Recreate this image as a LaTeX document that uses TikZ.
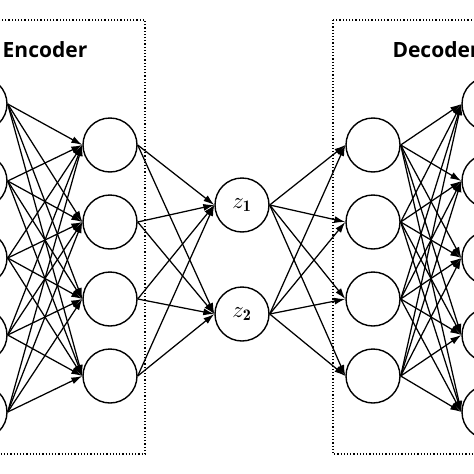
\documentclass[tikz,border=0pt]{standalone}
\usepackage{fontspec}
\usepackage{fix-cm}
\newfontfamily\titlefont{Open Sans}
\usetikzlibrary{arrows.meta}

\begin{document}
\begin{tikzpicture}[x=1pt, y=-1pt, >={Latex[length=11pt,width=7pt]},
  unit/.style={circle, draw, line width=1.4pt, minimum size=54pt, inner sep=0pt,
    font=\fontsize{23}{27}\selectfont},
  link/.style={->, line width=1.25pt},
  group/.style={draw, line width=1.2pt, dash pattern=on 1.2pt off 2pt},
  title/.style={font=\titlefont\bfseries\fontsize{21}{25}\selectfont}]

  \useasboundingbox (0,0) rectangle (474,474);
  \clip (0,0) rectangle (474,474);

  % encoder / decoder frames
  \draw[group] (-10,20) rectangle (145,454);
  \draw[group] (333,20) rectangle (490,454);
  \node[title] (enc) at (45,50) {Encoder};
  \node[title, anchor=west] (dec) at (389,50) {Decoder};

  % input layer
  \node[unit] (i1) at (-20,104) {};
  \node[unit] (i2) at (-20,181) {};
  \node[unit] (i3) at (-20,258) {};
  \node[unit] (i4) at (-20,335) {};
  \node[unit] (i5) at (-20,412) {};

  % encoder hidden layer
  \node[unit] (h1) at (110,145) {};
  \node[unit] (h2) at (110,222) {};
  \node[unit] (h3) at (110,299) {};
  \node[unit] (h4) at (110,376) {};

  % code
  \node[unit] (z1) at (242,205) {$z_{\mathbf{1}}$};
  \node[unit] (z2) at (242,314) {$z_{\mathbf{2}}$};

  % decoder hidden layer
  \node[unit] (d1) at (373,145) {};
  \node[unit] (d2) at (373,222) {};
  \node[unit] (d3) at (373,299) {};
  \node[unit] (d4) at (373,376) {};

  % output layer
  \node[unit] (o1) at (489,104) {};
  \node[unit] (o2) at (489,181) {};
  \node[unit] (o3) at (489,258) {};
  \node[unit] (o4) at (489,335) {};
  \node[unit] (o5) at (489,412) {};

  % connections
  \foreach \i in {1,...,5}
    \foreach \j in {1,...,4}
      \draw[link] (i\i.east) -- (h\j.west);
  \foreach \i in {1,...,4}
    \foreach \j in {1,2}
      \draw[link] (h\i.east) -- (z\j.west);
  \foreach \i in {1,2}
    \foreach \j in {1,...,4}
      \draw[link] (z\i.east) -- (d\j.west);
  \foreach \i in {1,...,4}
    \foreach \j in {1,...,5}
      \draw[link] (d\i.east) -- (o\j.west);

\end{tikzpicture}
\end{document}
